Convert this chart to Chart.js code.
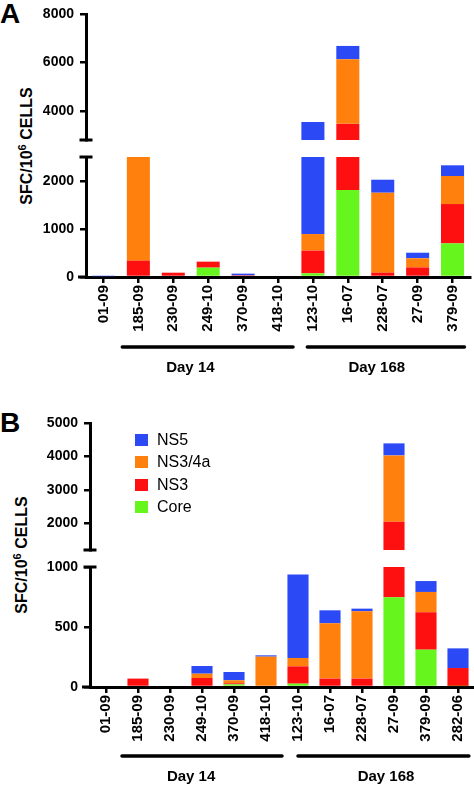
<!DOCTYPE html>
<html><head><meta charset="utf-8">
<script src="https://cdn.jsdelivr.net/npm/chart.js@4.4.1/dist/chart.umd.min.js"></script>
<style>
html,body{margin:0;padding:0;background:#fff;}
#wrap{position:relative;width:474px;height:786px;overflow:hidden;font-family:"Liberation Sans",Arial,sans-serif;color:#000;}
.box{position:absolute;left:0;width:474px;}
.letter{position:absolute;left:0;font-weight:bold;font-size:28px;line-height:1;}
.ytitle{position:absolute;font-weight:bold;font-size:16px;line-height:1;white-space:nowrap;transform:translate(-50%,-50%) rotate(-90deg);}
.ytitle sup{font-size:11px;vertical-align:6px;line-height:0;}
#legend{position:absolute;left:135px;top:429px;font-size:16px;}
#legend .row{display:flex;align-items:center;height:22.3px;}
#legend .sw{width:13px;height:12px;margin-right:9px;display:inline-block;}
</style></head>
<body>
<div id="wrap">
  <div class="letter" style="top:0px">A</div>
  <div class="letter" style="top:409px">B</div>
  <div class="ytitle" style="left:27px;top:146px">SFC/10<sup>6</sup> CELLS</div>
  <div class="ytitle" style="left:22px;top:555px">SFC/10<sup>6</sup> CELLS</div>
  <div class="box" style="top:0px;height:150px"><canvas id="aU"></canvas></div>
  <div class="box" style="top:147px;height:230px"><canvas id="aL"></canvas></div>
  <div class="box" style="top:410px;height:150px"><canvas id="bU"></canvas></div>
  <div class="box" style="top:556px;height:230px"><canvas id="bL"></canvas></div>
  <div id="legend"></div>
</div>
<script>
// ---- data ----
const seriesNames  = ['Core', 'NS3', 'NS3/4a', 'NS5'];
const seriesColors = ['#66f51c', '#ff1010', '#ff800d', '#2b4af6'];

const categoriesA = ['01-09','185-09','230-09','249-10','370-09','418-10','123-10','16-07','228-07','27-09','379-09'];
const coreA  = [0,   0,    0,  195, 0,  0, 77,   1810, 0,    0,   700];
const ns3A   = [0,   340,  90, 125, 35, 0, 473,  1656, 90,   200, 820];
const ns34aA = [0,   2160, 0,  0,   0,  0, 345,  2669, 1666, 190, 584];
const ns5A   = [15,  0,    0,  0,   35, 0, 2645, 547,  271,  116, 223];

const categoriesB = ['01-09','185-09','230-09','249-10','370-09','418-10','123-10','16-07','228-07','27-09','379-09','282-06'];
const coreB  = [0, 0,  0, 0,  22, 0,   28,  0,   0,   748,  311, 8];
const ns3B   = [0, 70, 0, 75, 9,  0,   144, 70,  70,  1300, 312, 150];
const ns34aB = [0, 0,  0, 36, 25, 253, 70,  461, 561, 1982, 169, 0];
const ns5B   = [0, 0,  0, 64, 69, 11,  695, 108, 22,  360,  91,  164];

const yTicksAUpper = [4000, 6000, 8000];
const yTicksALower = [0, 1000, 2000];
const yTicksBUpper = [2000, 3000, 4000, 5000];
const yTicksBLower = [0, 500, 1000];
const yRangeAUpper = [2800, 8000];
const yRangeALower = [0, 2500];
const yRangeBUpper = [1200, 5000];
const yRangeBLower = [0, 1000];

const groupLabels = ['Day 14', 'Day 168'];
const groupIdxA = [[1, 5], [6, 10]];
const groupIdxB = [[1, 5], [6, 11]];

// ---- legend (reverse order like the reference) ----
const legendEl = document.getElementById('legend');
for (let i = seriesNames.length - 1; i >= 0; i--) {
  const r = document.createElement('div'); r.className = 'row';
  const s = document.createElement('span'); s.className = 'sw'; s.style.background = seriesColors[i];
  const t = document.createElement('span'); t.textContent = seriesNames[i];
  r.appendChild(s); r.appendChild(t); legendEl.appendChild(r);
}

const FONT = '"Liberation Sans", Arial, sans-serif';

const decor = {
  id: 'decor',
  afterDraw(chart, args, o) {
    const ctx = chart.ctx, x = chart.scales.x, y = chart.scales.y;
    const ax = y.right;
    ctx.save();
    ctx.strokeStyle = '#000'; ctx.fillStyle = '#000';
    if (o.cap) {
      const py = o.cap === 'top' ? y.getPixelForValue(y.max) : y.getPixelForValue(y.min);
      ctx.lineWidth = 3; ctx.beginPath(); ctx.moveTo(ax - 6.5, py); ctx.lineTo(ax + 6.5, py); ctx.stroke();
    }
    if (o.ext) {
      const py = y.getPixelForValue(0);
      ctx.lineWidth = 3; ctx.beginPath(); ctx.moveTo(ax - o.ext, py); ctx.lineTo(ax, py); ctx.stroke();
    }
    if (o.groups) {
      const p0 = x.getPixelForValue(0), step = x.getPixelForValue(1) - p0;
      const px = v => p0 + v * step;
      const base = y.getPixelForValue(0);
      o.groups.forEach((g, k) => {
        ctx.lineWidth = 3.5; ctx.lineCap = 'round';
        ctx.beginPath();
        ctx.moveTo(px(g.idx[0] + g.off[0]), base + o.lineDy);
        ctx.lineTo(px(g.idx[1] + g.off[1]), base + o.lineDy);
        ctx.stroke();
        ctx.font = 'bold 15px ' + FONT;
        ctx.textAlign = 'center'; ctx.textBaseline = 'middle';
        ctx.fillText(groupLabels[k], px(g.textAt), base + o.textDy);
      });
    }
    ctx.restore();
  }
};

function makeChart(id, labels, series, range, ticks, opt) {
  return new Chart(document.getElementById(id), {
    type: 'bar',
    data: {
      labels: labels,
      datasets: series.map((v, i) => ({
        label: seriesNames[i], data: v, backgroundColor: seriesColors[i],
        borderWidth: 0, clip: 0, barPercentage: 0.66, categoryPercentage: 1
      }))
    },
    options: {
      responsive: true, maintainAspectRatio: false, animation: false,
      layout: { padding: { top: opt.padTop, bottom: opt.padBottom, left: 0, right: opt.padRight } },
      plugins: { legend: { display: false }, tooltip: { enabled: false }, decor: opt.decor },
      scales: {
        x: {
          stacked: true, display: opt.showX,
          grid: { offset: false, drawOnChartArea: false, drawTicks: true, tickLength: 6, color: '#000', tickColor: '#000', lineWidth: 2.5 },
          border: { display: true, color: '#000', width: 3 },
          ticks: { autoSkip: false, minRotation: 90, maxRotation: 90, padding: 2, color: '#000', font: { family: FONT, size: 15, weight: 'bold' } },
          afterFit: s => { if (opt.xHeight) s.height = opt.xHeight; s.paddingLeft = 0; s.paddingRight = 0; }
        },
        y: {
          stacked: true, min: range[0], max: range[1],
          grid: { drawOnChartArea: false, drawTicks: true, tickLength: 6, color: '#000', tickColor: '#000', lineWidth: 2.5 },
          border: { display: true, color: '#000', width: 3 },
          ticks: { padding: 6, color: '#000', font: { family: FONT, size: 14, weight: 'bold' }, callback: v => String(v) },
          afterBuildTicks: s => { s.ticks = ticks.map(v => ({ value: v })); },
          afterFit: s => { s.width = opt.yWidth; s.paddingTop = 0; s.paddingBottom = 0; }
        }
      }
    },
    plugins: [decor]
  });
}

makeChart('aU', categoriesA, [coreA, ns3A, ns34aA, ns5A], yRangeAUpper, yTicksAUpper,
  { padTop: 14, padBottom: 10, padRight: 4, showX: false, yWidth: 86, decor: { cap: 'bottom' } });
makeChart('aL', categoriesA, [coreA, ns3A, ns34aA, ns5A], yRangeALower, yTicksALower,
  { padTop: 10, padBottom: 0, padRight: 4, showX: true, xHeight: 100, yWidth: 86,
    decor: { cap: 'top', ext: 8, lineDy: 70, textDy: 91,
      groups: [ { idx: groupIdxA[0], off: [-0.46, 0.43], textAt: 2.49 },
                { idx: groupIdxA[1], off: [-0.16, 0.34], textAt: 7.83 } ] } });
makeChart('bU', categoriesB, [coreB, ns3B, ns34aB, ns5B], yRangeBUpper, yTicksBUpper,
  { padTop: 13, padBottom: 10, padRight: 0, showX: false, yWidth: 90, decor: { cap: 'bottom' } });
makeChart('bL', categoriesB, [coreB, ns3B, ns34aB, ns5B], yRangeBLower, yTicksBLower,
  { padTop: 11, padBottom: 0, padRight: 0, showX: true, xHeight: 99, yWidth: 90,
    decor: { cap: 'top', ext: 8, lineDy: 69, textDy: 90,
      groups: [ { idx: groupIdxB[0], off: [-0.5, 0.5], textAt: 2.66 },
                { idx: groupIdxB[1], off: [0, 0.34], textAt: 8.75 } ] } });
</script>
</body></html>
